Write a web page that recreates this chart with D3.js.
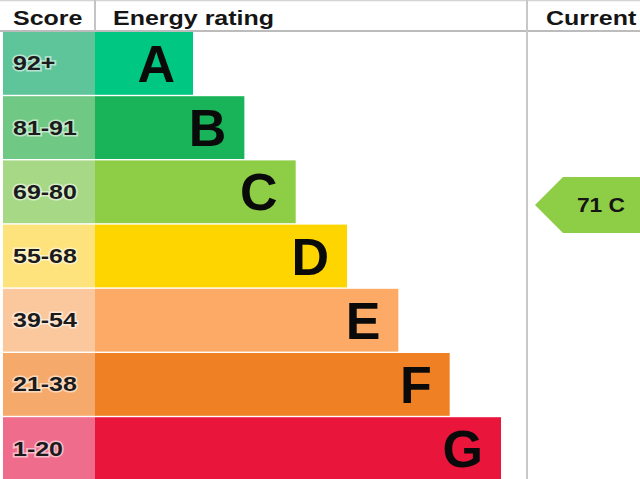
<!DOCTYPE html>
<html>
<head>
<meta charset="utf-8">
<script src="https://cdn.jsdelivr.net/npm/d3@7"></script>
<style>
  html, body { margin: 0; padding: 0; background: #fff; }
  svg { display: block; }
  text { font-family: "Liberation Sans", Arial, sans-serif; font-weight: bold; }
</style>
</head>
<body>
<svg id="chart" width="640" height="479"></svg>
<script>
const bands = ["A", "B", "C", "D", "E", "F", "G"];
const scoreRanges = ["92+", "81-91", "69-80", "55-68", "39-54", "21-38", "1-20"];
const barLength = [1, 2, 3, 4, 5, 6, 7];
const barColors = ["#00c781", "#19b459", "#8dce46", "#ffd500", "#fcaa65", "#ef8023", "#e9153b"];
const scoreColors = ["#5ec59b", "#6fc883", "#a7d886", "#fee27b", "#fbc89d", "#f5aa6c", "#f06c8c"];
const headers = ["Score", "Energy rating", "Current"];
const currentScore = 71;
const currentBand = "C";

const W = 640, H = 479;
const svg = d3.select("#chart");
const stretch = 1.19;

const y = d3.scaleBand().domain(bands).range([32, H + 1]).paddingInner(0.022);
const x = d3.scaleLinear().domain([0, 7]).range([141.7, 501]);
const scoreX0 = 3, barX0 = 95, divX = 527;

const rows = svg.append("g").selectAll("g").data(bands).join("g");

rows.append("rect")
  .attr("x", scoreX0).attr("y", d => y(d))
  .attr("width", barX0 - scoreX0).attr("height", y.bandwidth())
  .attr("fill", (d, i) => scoreColors[i]);

rows.append("rect")
  .attr("x", barX0).attr("y", d => y(d))
  .attr("width", (d, i) => x(barLength[i]) - barX0).attr("height", y.bandwidth())
  .attr("fill", (d, i) => barColors[i]);

rows.append("text")
  .attr("transform", d => `translate(13,${y(d) + y.bandwidth() / 2 + 7}) scale(${stretch},1)`)
  .attr("font-size", 21)
  .attr("fill", "#1b1b1b")
  .attr("stroke", "rgba(255,255,255,0.55)").attr("stroke-width", 3)
  .attr("paint-order", "stroke")
  .text((d, i) => scoreRanges[i]);

rows.append("text")
  .attr("x", (d, i) => x(barLength[i]) - 18)
  .attr("y", d => y(d) + y.bandwidth() / 2 + 18.5)
  .attr("text-anchor", "end")
  .attr("font-size", 52)
  .attr("fill", "#0a0a0a")
  .text(d => d);

// header lines
svg.append("line").attr("x1", 0).attr("x2", W).attr("y1", 0.5).attr("y2", 0.5)
  .attr("stroke", "#d4d4d4").attr("stroke-width", 1.5);
svg.append("line").attr("x1", 0).attr("x2", W).attr("y1", 31).attr("y2", 31)
  .attr("stroke", "#bcbcbc").attr("stroke-width", 2);
svg.append("line").attr("x1", barX0).attr("x2", barX0).attr("y1", 0).attr("y2", 31)
  .attr("stroke", "#c4c4c4").attr("stroke-width", 2);
svg.append("line").attr("x1", divX).attr("x2", divX).attr("y1", 0).attr("y2", H)
  .attr("stroke", "#c8c8c8").attr("stroke-width", 2);

// header texts
const headerX = [13, 113, 546];
svg.append("g").selectAll("text").data(headers).join("text")
  .attr("transform", (d, i) => `translate(${headerX[i]},25) scale(${stretch},1)`)
  .attr("font-size", 21).attr("fill", "#151515")
  .text(d => d);

// current arrow
const bi = bands.indexOf(currentBand);
const cy = y(currentBand) + y.bandwidth() * 0.71;
const ah = 28, tipX = 535, shoulder = 28;
const arrowPts = [[tipX, cy], [tipX + shoulder, cy - ah], [W + 2, cy - ah], [W + 2, cy + ah], [tipX + shoulder, cy + ah]];
svg.append("path")
  .attr("d", d3.line()(arrowPts) + "Z")
  .attr("fill", barColors[bi]);
svg.append("text")
  .attr("transform", `translate(601,${cy + 7}) scale(1.14,1)`)
  .attr("text-anchor", "middle")
  .attr("font-size", 20).attr("fill", "#151515")
  .text(currentScore + " " + currentBand);
</script>
</body>
</html>
